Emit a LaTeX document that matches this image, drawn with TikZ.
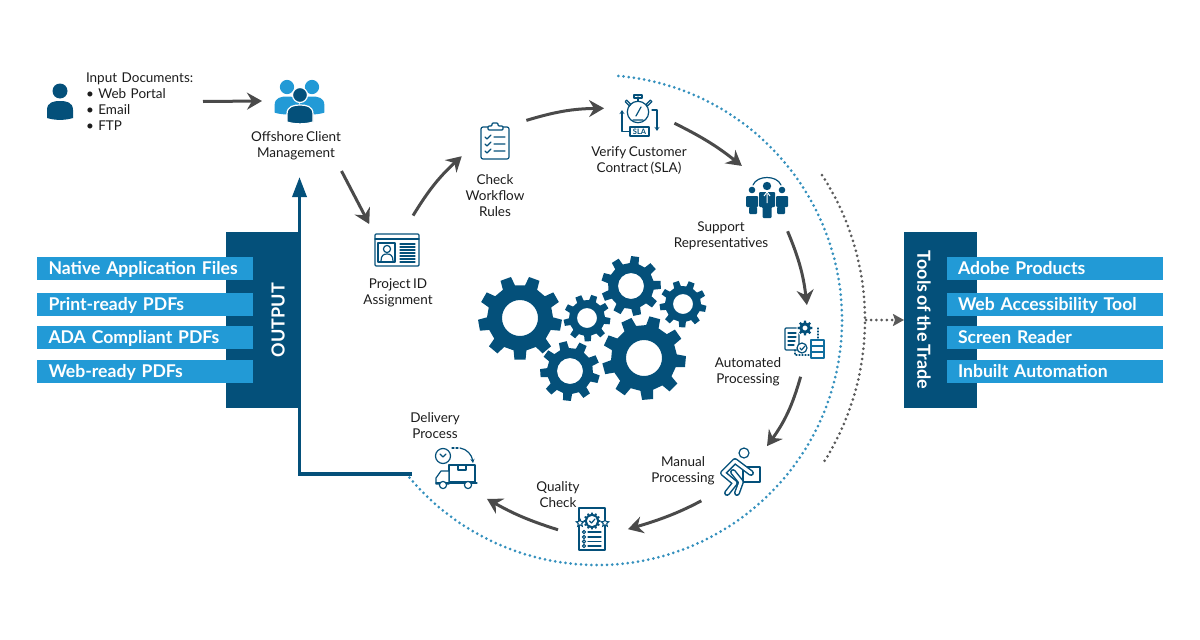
\documentclass[tikz,border=0pt]{standalone}
\usepackage{fontspec}
\setmainfont{Lato}[WordSpace=0.7]
\usetikzlibrary{arrows.meta,shapes.geometric}
\definecolor{dkblue}{HTML}{04507A}
\definecolor{ltblue}{HTML}{229AD6}
\definecolor{dotblue}{HTML}{3490BD}
\definecolor{arrowgray}{HTML}{4A4A4A}
\definecolor{dotgray}{HTML}{5A5A5A}
\definecolor{inktext}{HTML}{1C1C1C}
\tikzset{
  flow/.style={-{Stealth[length=15pt,width=17pt,inset=5pt]},draw=arrowgray,line width=3pt},
  stepicon/.style={circle,minimum size=#1,inner sep=0pt,outer sep=0pt},
  steplabel/.style={align=center,text=inktext,inner sep=0pt,outer sep=0pt,font=\fontsize{13.5}{16}\selectfont},
  sidebox/.style={fill=dkblue,minimum width=73pt,minimum height=176pt,inner sep=0pt,outer sep=0pt},
  sidetitle/.style={text=white,inner sep=0pt,font=\fontsize{18}{20}\selectfont\bfseries},
  barbox/.style={fill=ltblue,text=white,minimum height=23pt,text width=193pt,text height=12.5pt,text depth=0pt,inner xsep=11.5pt,inner ysep=0pt,outer sep=0pt,align=left,font=\fontsize{17.6}{20}\selectfont\bfseries},
  iconline/.style={draw=dkblue,line width=1.2pt,line cap=round,line join=round},
  bluedots/.style={draw=dotblue,line width=3pt,line cap=round,dash pattern=on 0pt off 5.2pt},
  graydots/.style={draw=dotgray,line width=3pt,line cap=round,dash pattern=on 0pt off 5.2pt},
  manline/.style={draw=dkblue,line width=1.5pt,line cap=round,line join=round,double=white,double distance=3pt},
}
% x, y, tip radius, root radius, hole radius, teeth, phase
\newcommand{\cog}[7]{
  \begin{scope}[shift={(#1,#2)}]
    \pgfmathsetmacro{\cogstep}{360/#6}
    \fill[dkblue,even odd rule] ({#7-0.28*\cogstep}:#4)
      \foreach \t in {1,...,#6} {
        -- ({#7+(\t-1)*\cogstep-0.28*\cogstep}:#4)
        -- ({#7+(\t-1)*\cogstep-0.19*\cogstep}:#3)
        -- ({#7+(\t-1)*\cogstep+0.19*\cogstep}:#3)
        -- ({#7+(\t-1)*\cogstep+0.28*\cogstep}:#4)
      } -- cycle (0,0) circle[radius=#5];
  \end{scope}
}
% x, y, scale, look
\newcommand{\human}[4]{
  \begin{scope}[shift={(#1,#2)},scale=#3]
    \fill[#4] (0,-10) circle[radius=7.5];
    \fill[#4] (-13,17) -- (-13,9) .. controls (-13,1) and (-6,0) .. (0,0)
      .. controls (6,0) and (13,1) .. (13,9) -- (13,17)
      .. controls (5,19.5) and (-5,19.5) .. cycle;
  \end{scope}
}
\begin{document}
\begin{tikzpicture}[x=1pt,y=-1pt]
\useasboundingbox (0,0) rectangle (1200,640);

% dotted rings
\draw[bluedots] (597,320) ++(-85:245) arc[start angle=-85,end angle=140,radius=245];
\draw[graydots] (599,320) ++(-33:266) arc[start angle=-33,end angle=33,radius=266];
\coordinate (ringmid) at (866,320);

% cogs
\cog{520}{318}{42}{33}{18}{9}{90}
\cog{587}{318}{23.5}{18}{10}{9}{88}
\cog{631}{286}{30}{23}{13}{9}{78}
\cog{683}{304}{23.5}{18}{10}{9}{92}
\cog{570}{371}{30}{23}{13}{9}{96}
\cog{644}{358}{42}{33}{18}{9}{85}

% input side
\human{60}{101}{1}{dkblue}
\node[steplabel,anchor=west,text width=117pt,align=left] (input) at (86,101.5) {Input Documents:\\\textbullet\ Web Portal\\\textbullet\ Email\\\textbullet\ FTP};

\human{287}{96.5}{0.95}{ltblue}
\human{312}{96.5}{0.95}{ltblue}
\human{300}{105}{1}{dkblue,draw=white,line width=1.2pt}
\node[stepicon=74pt] (team) at (299,101) {};
\node[steplabel,minimum height=50pt,minimum width=91pt] (offshore) at (296,146) {Offshore Client\\Management};

% project id
\node[stepicon=76pt] (project) at (397,250) {};
\draw[iconline,rounded corners=1pt] (375,234) rectangle (419,266);
\draw[iconline] (375,239) -- (419,239);
\draw[iconline] (378,243) rectangle (395,262);
\draw[iconline] (387,249) circle[radius=3.6];
\draw[iconline] (381,261) .. controls (381,255) and (384,254) .. (387,254) .. controls (390,254) and (393,255) .. (393,261);
\draw[iconline] (400,244) -- (415,244) (400,247) -- (415,247) (400,250) -- (415,250) (400,253) -- (415,253) (400,256) -- (415,256) (400,259) -- (415,259) (400,262) -- (415,262);
\node[steplabel] (projectlabel) at (398,293) {Project ID\\Assignment};

% workflow rules
\node[stepicon=74pt] (check) at (495,140) {};
\draw[iconline,rounded corners=2pt] (481,127) rectangle (509,159);
\draw[iconline,fill=white,rounded corners=1pt] (488,130) -- (488,126) -- (492,126) -- (492,123) -- (498,123) -- (498,126) -- (503,126) -- (503,130) -- cycle;
\draw[iconline] (485,137) -- (487,139) -- (491,135) (494,137) -- (505,137);
\draw[iconline] (485,144) -- (487,146) -- (491,142) (494,144) -- (505,144);
\draw[iconline] (485,151) -- (487,153) -- (491,149) (494,151) -- (505,151);
\node[steplabel] (checklabel) at (495,196) {Check\\Workflow\\Rules};

% sla stopwatch
\node[stepicon=72pt] (verify) at (639,117) {};
\draw[iconline] (638,112) circle[radius=10.7];
\draw[iconline] (638,101) -- (638,97) (634,95) rectangle (642,98);
\draw[iconline,rotate around={-45:(628,103)}] (625,102) rectangle (631,104);
\draw[iconline,rotate around={45:(649,103)}] (646,102) rectangle (652,104);
\draw[iconline] (636,116) -- (641,107) (633,120) -- (643,120);
\draw[iconline,fill=white] (630,127) rectangle (649,136);
\node[inner sep=0pt,text=dkblue,font=\fontsize{7.5}{8}\selectfont\bfseries] (sla) at (639.5,131.5) {SLA};
\draw[iconline,-{Stealth[length=4pt,width=5pt,fill=white]}] (629,131.5) -- (622,131.5) -- (622,110);
\draw[iconline,-{Stealth[length=4pt,width=5pt,fill=white]}] (652,110) -- (657,110) -- (657,131);
\node[steplabel] (verifylabel) at (639,160.5) {Verify Customer\\Contract (SLA)};

% support
\node[stepicon=80pt] (support) at (767,197) {};
\draw[iconline] (753,185) .. controls (757,175) and (777,175) .. (781,185);
\fill[dkblue] (767,186) circle[radius=4.2];
\fill[dkblue] (752,190) circle[radius=3.3];
\fill[dkblue] (782,190) circle[radius=3.3];
\fill[dkblue,rounded corners=1pt] (746,196) rectangle (758,207) (749,207) rectangle (757,214);
\fill[dkblue,rounded corners=1pt] (776,196) rectangle (788,207) (777,207) rectangle (785,214);
\fill[dkblue,rounded corners=1pt] (759,192) -- (775,192) -- (775,207) -- (771.5,207) -- (771.5,218) -- (762.5,218) -- (762.5,207) -- (759,207) -- cycle;
\draw[white,line width=1pt] (767,192) -- (764,196) (767,192) -- (770,196) (767,194) -- (767,203);
\node[steplabel] (supportlabel) at (721,235.5) {Support\\Representatives};

% automated
\node[stepicon=72pt] (automated) at (805,341) {};
\draw[iconline,rounded corners=1pt] (785,328) rectangle (799,350);
\draw[iconline] (788,333) -- (796,333) (788,337) -- (796,337) (788,341) -- (795,341) (788,345) -- (794,345);
\draw[iconline,draw=white,line width=3pt] (805,328) circle[radius=7];
\cog{805}{328}{7.5}{5.5}{2.6}{8}{0}
\draw[iconline,fill=white] (802,348) circle[radius=5];
\draw[iconline] (800,348) -- (801.5,350) -- (805,346);
\draw[iconline,dash pattern=on 1pt off 2pt] (818,328) -- (818,339) (795,350) -- (795,355) -- (810,355);
\draw[iconline,fill=white,draw=ltblue!40!dkblue] (811,340) rectangle (824,346) (811,346) rectangle (824,352) (811,352) rectangle (824,358);
\node[steplabel] (automatedlabel) at (748,371.5) {Automated\\Processing};

% manual
\node[stepicon=72pt] (manual) at (742,472) {};
\draw[iconline] (744,453) circle[radius=5];
\draw[iconline] (743,467) rectangle (760,482);
\draw[manline] (751,473) -- (735,461) -- (723,473) -- (735,483) -- (727,493);
\draw[manline] (733,472) -- (741,482) -- (737,493);
\node[steplabel] (manuallabel) at (683,470.5) {Manual\\Processing};

% quality
\node[stepicon=70pt] (quality) at (593,531) {};
\draw[iconline] (579,508) rectangle (605,550);
\cog{592}{521}{8.5}{7}{5.2}{12}{0}
\draw[iconline] (589.5,521) -- (591.5,523) -- (595,519);
\node[star,star points=5,star point ratio=2.2,draw=dkblue,fill=white,line width=1pt,minimum size=8pt,inner sep=0pt] (starleft) at (580,523) {};
\node[star,star points=5,star point ratio=2.2,draw=dkblue,fill=white,line width=1pt,minimum size=8pt,inner sep=0pt] (starright) at (605,523) {};
\draw[iconline] (584,532) circle[radius=1.6] (584,537) circle[radius=1.6] (584,541.5) circle[radius=1.6] (584,546) circle[radius=1.6];
\draw[iconline] (588,532) -- (601,532) (588,537) -- (601,537) (588,541.5) -- (601,541.5) (588,546) -- (601,546);
\node[steplabel] (qualitylabel) at (558,494.5) {Quality\\Check};

% delivery
\node[stepicon=86pt] (delivery) at (455,470) {};
\draw[iconline] (443,456) circle[radius=7.5];
\draw[iconline] (440,454) -- (443,457) -- (446,454);
\draw[iconline,dash pattern=on 2pt off 2pt] (452,448) -- (459,448);
\draw[iconline,-{Stealth[length=4pt,width=4pt]}] (460,448) .. controls (467,449) and (472,455) .. (473,463);
\draw[iconline,fill=white] (449,465) rectangle (475,482);
\draw[iconline] (458,465) -- (458,470) -- (466,470) -- (466,465);
\draw[iconline,fill=white] (449,471) -- (441,471) -- (436,478) -- (436,484) -- (449,484) -- cycle;
\draw[iconline] (436,483) -- (477,483);
\draw[iconline,fill=white] (443,485) circle[radius=3.6];
\draw[iconline,fill=white] (468,485) circle[radius=3.6];
\node[steplabel] (deliverylabel) at (435,425.5) {Delivery\\Process};

% process flow
\draw[flow] (input.east) -- (team.180);
\draw[flow] (offshore.south east) -- (project.137);
\draw[flow] (project.65) to[bend left=8] (check.206);
\draw[flow] (check.32) to[bend left=8] (verify.166);
\draw[flow] (verify.-10) to[bend left=6] (support.129);
\draw[flow] (support.-59) to[bend left=8] (automated.87);
\draw[flow] (automated.-97) to[bend left=10] (manual.46);
\draw[flow,shorten <=14pt] (manual.218) to[bend left=6] (quality.3);
\draw[flow] (quality.178) to[bend left=6] (delivery.-42);

% output
\node[sidebox] (output) at (262,320) {};
\node[sidetitle,rotate=90] (outputtitle) at (278,320) {OUTPUT};
\node[barbox] (native) at (145,268.5) {Native Application Files};
\node[barbox] (printready) at (145,304.5) {Print-ready PDFs};
\node[barbox] (ada) at (145,337.5) {ADA Compliant PDFs};
\node[barbox] (webready) at (145,371.5) {Web-ready PDFs};
\coordinate (outtip) at (299.5,177);
\draw[draw=dkblue,line width=3.5pt,-{Stealth[length=20pt,width=14pt,inset=0pt]}] (delivery.185) -| (outtip);

% tools
\node[sidebox] (tools) at (940.5,320) {};
\node[sidetitle,rotate=-90] (toolstitle) at (924,320) {Tools of the Trade};
\node[barbox] (adobe) at (1054.5,268.5) {Adobe Products};
\node[barbox] (webtool) at (1054.5,304.5) {Web Accessibility Tool};
\node[barbox] (reader) at (1054.5,337.5) {Screen Reader};
\node[barbox] (inbuilt) at (1054.5,371.5) {Inbuilt Automation};
\draw[graydots,-{Stealth[length=11pt,width=12pt,inset=2pt]}] (ringmid) -- (tools.west);
\end{tikzpicture}
\end{document}
